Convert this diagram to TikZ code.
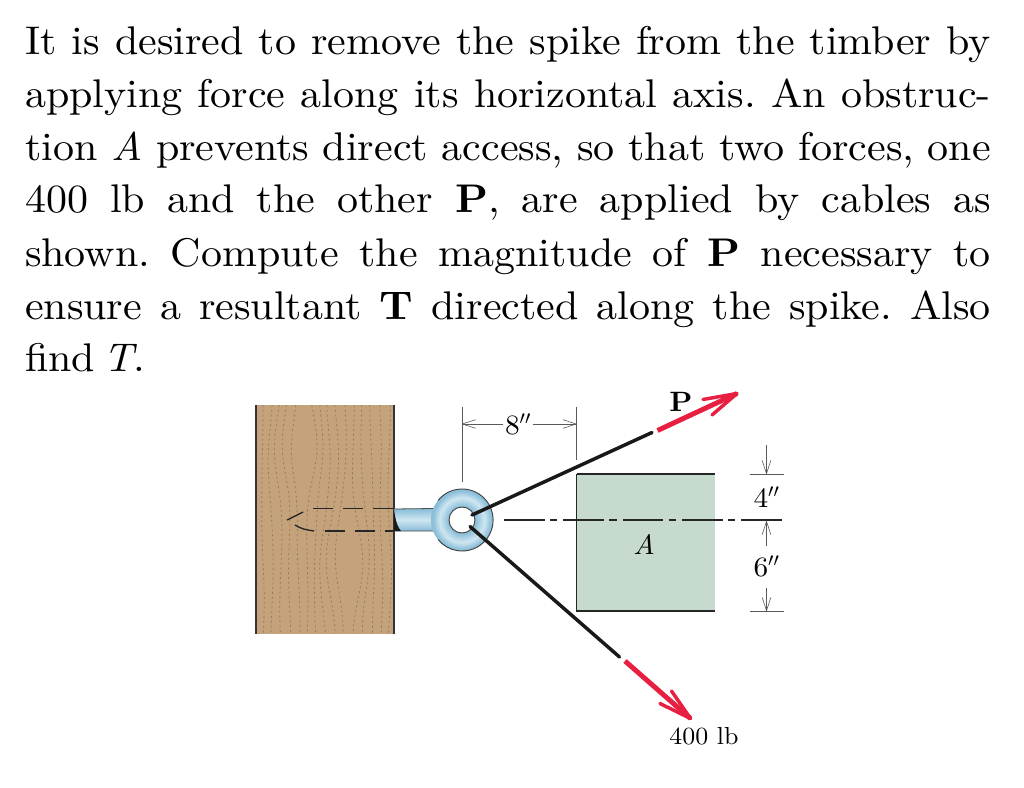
\documentclass[tikz,border=0pt]{standalone}
\usepackage{fontspec}
\setmainfont{lmroman10-regular}[Extension=.otf,BoldFont=lmroman10-bold,ItalicFont=lmroman10-italic,FakeStretch=1.05]
\usetikzlibrary{arrows.meta}
\definecolor{wood}{HTML}{C4A27B}
\definecolor{grain}{HTML}{9A7A54}
\definecolor{block}{HTML}{C6DACD}
\definecolor{redc}{HTML}{E71F40}
\definecolor{ringd}{HTML}{8CBFD9}
\definecolor{ringl}{HTML}{CFE6F1}
\pgfdeclareradialshading{ringshade}{\pgfpoint{0bp}{0bp}}{
  color(0bp)=(ringd); color(11bp)=(ringd);
  color(18bp)=(ringl); color(23.5bp)=(ringd); color(25bp)=(ringd); color(50bp)=(ringd)}
\pgfdeclareverticalshading{shankshade}{100bp}{
  color(0bp)=(ringd); color(27bp)=(ringd); color(50bp)=(ringl); color(73bp)=(ringd); color(100bp)=(ringd)}
\tikzset{
  bodytext/.style={anchor=base west,inner sep=0pt,outer sep=0pt,font=\fontsize{30}{36}\selectfont},
  dimlabel/.style={inner sep=0pt,font=\fontsize{18.5}{22}\selectfont},
  dimnum/.style={inner sep=0pt,font=\fontsize{21}{25}\selectfont},
  dimline/.style={draw=black!65,line width=.6pt},
  dimarrow/.style={dimline,-{Straight Barb[length=10pt,width=6.5pt,line width=.45pt]},shorten >=-.5pt},
  cable/.style={line width=2.6pt,black!90,line cap=round},
  forcearrow/.style={line width=3.7pt,redc},
  forcebarb/.style={line width=2.6pt,redc,line cap=round,line join=round},
  grainline/.style={grain,line width=.55pt,dash pattern=on 1.6pt off 2pt},
  spikehidden/.style={line width=1pt,black!85},
}
\newcommand{\bodyline}[3]{\node[bodytext] (#1) at (25,#2) {\makebox[724.5pt][s]{#3}};}
\begin{document}
\begin{tikzpicture}[x=.75pt,y=-.75pt]
\useasboundingbox (0,0) rectangle (1024,788);
\bodyline{l1}{55}{It\hfil is\hfil desired\hfil to\hfil remove\hfil the\hfil spike\hfil from\hfil the\hfil timber\hfil by}
\bodyline{l2}{108}{applying\hfil force\hfil along\hfil its\hfil horizontal\hfil axis.\hfil An\hfil obstruc-}
\bodyline{l3}{161}{tion\hfil \textit{A}\hfil prevents\hfil direct\hfil access,\hfil so\hfil that\hfil two\hfil forces,\hfil one}
\bodyline{l4}{213}{400\hfil lb\hfil and\hfil the\hfil other\hfil \textbf{P},\hfil are\hfil applied\hfil by\hfil cables\hfil as}
\bodyline{l5}{266}{shown.\hfil Compute\hfil the\hfil magnitude\hfil of\hfil \textbf{P}\hfil necessary\hfil to}
\bodyline{l6}{319}{ensure\hfil a\hfil resultant\hfil \textbf{T}\hfil directed\hfil along\hfil the\hfil spike.\hfil Also}
\node[bodytext] (l7) at (25,371) {find\hspace{.2em}\textit{T}.};

% timber
\fill[wood] (256,405) rectangle (394,634);
\begin{scope}
\clip (256,405) rectangle (394,634);
\foreach \gx in {263,272,281,290,299,308,317,326,335,344,353,362,371,380,389}{
  \draw[grainline] plot[smooth,domain=405:634,samples=24,variable=\gy]
    ({\gx+(\gx<302?-1:1)*9*exp(-((\gy-450)/42)^2)*exp(-((\gx-302)/30)^2)+(\gx<347?-1:1)*9*exp(-((\gy-563)/48)^2)*exp(-((\gx-347)/30)^2)+1.2*sin(\gy*2.2+\gx*9)},{\gy});
}
\end{scope}
\draw[line width=.9pt,black!80] (256,405) -- (256,634);
\draw[line width=.9pt,black!80] (394,405) -- (394,634);

% hidden spike
\draw[spikehidden,dash pattern=on 15pt off 7.5pt] (393,508.5) -- (313,508.5);
\draw[spikehidden] (303,512) -- (287,520);
\draw[spikehidden] (295,525) .. controls (301,529) and (307,530) .. (314,531);
\draw[spikehidden,dash pattern=on 6pt off 7.5pt on 15pt off 7.5pt on 15pt off 30pt] (393,531) -- (324,531);

% eye bolt
\shade[shading=shankshade,draw=none] (394,509) -- (433,508.5) .. controls (438,508.5) and (440,512) .. (445,520)
  .. controls (440,528) and (438,531) .. (433,531) -- (394,531) -- cycle;
\draw[line width=.6pt,black!70] (394,509) -- (433,508.5) .. controls (435,508) and (436,507) .. (438,505);
\draw[line width=.6pt,black!70] (394,531) -- (433,531) .. controls (435,531.5) and (436,532) .. (438,535);
\fill[black!90] (394,509) .. controls (395,516) and (396,525) .. (401,531) -- (394,531) -- cycle;
\coordinate (eye) at (462,520);
\path[shading=ringshade,even odd rule] (eye) circle[radius=31] (eye) circle[radius=13];
\draw[line width=.7pt,black!75,fill=white] (eye) circle[radius=13];
\draw[line width=.7pt,black!75] (438,500.5) arc[start angle=-141,end angle=141,radius=31];

% obstruction A
\fill[block] (576.5,474) rectangle (714.5,611);
\draw[line width=.85pt,black!85] (714.5,474) -- (576.5,474);
\draw[line width=.85pt,black!85] (714.5,611) -- (576.5,611);
\draw[line width=1.3pt,black!85] (576.5,473.5) -- (576.5,611.5);
\node[dimlabel,font=\fontsize{21}{25}\selectfont\itshape] (lblA) at (644,544) {A};

% centre line
\coordinate (cl0) at (504,520);
\coordinate (cl1) at (784,520);
\draw[line width=.8pt,black!85,dash pattern=on 30.5pt off 4pt on 5.5pt off 4.5pt] (cl0) -- (cl1);

% cables and forces
\coordinate (pa) at (472,515);
\coordinate (pb) at (652,432.5);
\coordinate (pc) at (657.5,430.5);
\coordinate (pd) at (737,393.5);
\coordinate (qa) at (470,526.5);
\coordinate (qb) at (619.5,657);
\coordinate (qc) at (625,661);
\coordinate (qd) at (690.5,718.5);
\draw[cable] (pa) -- (pb);
\draw[cable] (qa) -- (qb);
\draw[forcearrow] (pc) -- (pd);
\draw[forcebarb] (703,399.5) -- (pd) -- (712,415);
\draw[forcearrow] (qc) -- (qd);
\draw[forcebarb] (671.5,691) -- (qd) -- (660,703.5);
\node[dimlabel,font=\fontsize{21}{25}\selectfont\bfseries] (lblP) at (681,401.5) {P};
\node[dimlabel] (lbl400) at (704,736) {400 lb};

% 8 inch dimension
\coordinate (e1a) at (462,406.5);
\coordinate (e1b) at (462,481.5);
\coordinate (e2a) at (576.5,406.5);
\coordinate (e2b) at (576.5,460);
\draw[dimline] (e1a) -- (e1b);
\draw[dimline] (e2a) -- (e2b);
\node[dimnum] (lbl8) at (518,424) {8$''$};
\coordinate (d1) at (462,424);
\coordinate (d2) at (576.5,424);
\draw[dimarrow] (lbl8.west) ++(-1.5,0) -- (d1);
\draw[dimarrow] (lbl8.east) ++(1.5,0) -- (d2);

% vertical dimensions
\coordinate (t1) at (749.5,474);
\coordinate (t2) at (783.5,474);
\coordinate (b1) at (749.5,611);
\coordinate (b2) at (783.5,611);
\draw[dimline] (t1) -- (t2);
\draw[dimline] (b1) -- (b2);
\node[dimnum] (lbl4) at (766.5,497) {4$''$};
\node[dimnum] (lbl6) at (766.5,566) {6$''$};
\coordinate (a1) at (766.5,445);
\coordinate (a2) at (766.5,474);
\coordinate (a3) at (766.5,546);
\coordinate (a4) at (766.5,521);
\coordinate (a5) at (766.5,588);
\coordinate (a6) at (766.5,611);
\draw[dimarrow] (a1) -- (a2);
\draw[dimarrow] (a3) -- (a4);
\draw[dimarrow] (a5) -- (a6);
\end{tikzpicture}
\end{document}
